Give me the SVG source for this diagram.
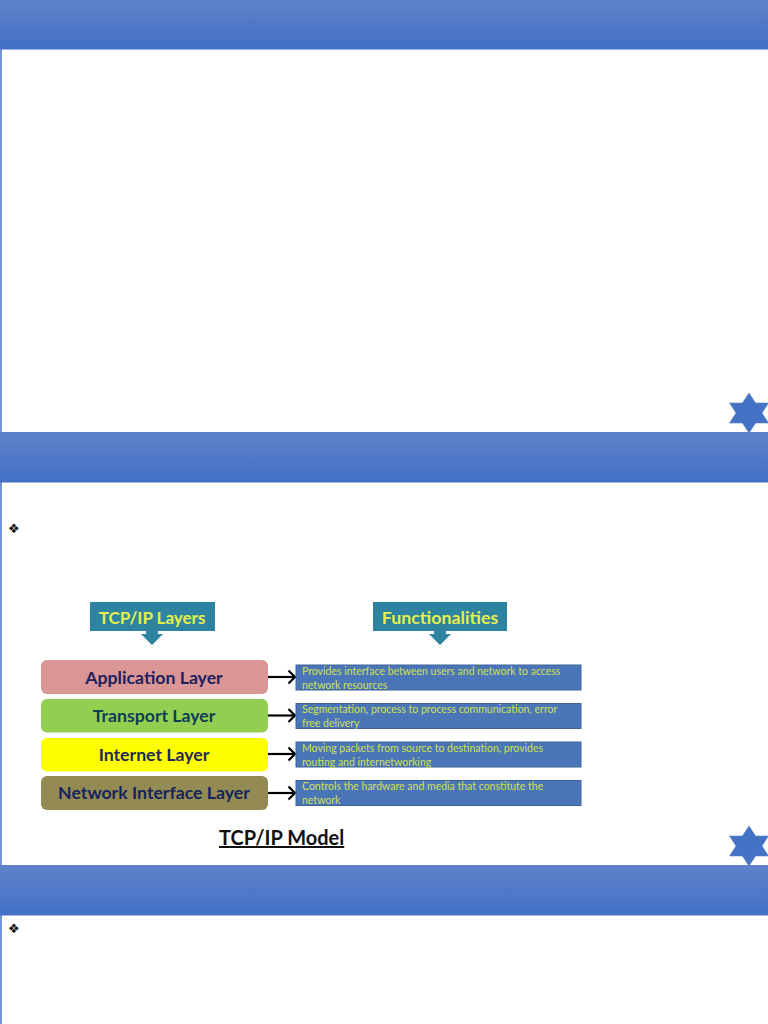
<svg xmlns="http://www.w3.org/2000/svg" width="768" height="1024" viewBox="0 0 768 1024">
<style>
text{font-family:Lato,"Liberation Sans",sans-serif}
.head{fill:#e5f04a;font-weight:700;text-anchor:middle}
.layer{font-weight:700;font-size:17.7px;text-anchor:middle}
.fn{fill:#cfe04e;font-size:10.5px}
.box{fill:#2e84a0}
.tip{fill:#2e84a0}
.fbox{fill:#4a76b8;stroke:#3f6296;stroke-width:1}
.conn{stroke:#000;stroke-width:2.2;fill:none;marker-end:url(#ah)}
.band{fill:url(#bg)}
.star{fill:#4472c4;stroke:#5b83cc;stroke-width:.6}
.edge{stroke:#4472c4;stroke-width:1.500}
.bul{font-family:"DejaVu Sans",sans-serif;font-size:13px;fill:#000}
</style>
<defs>
<linearGradient id="bg" x1="0" y1="0" x2="0" y2="1"><stop offset="0" stop-color="#5f82c9"/><stop offset="1" stop-color="#4270c6"/></linearGradient>
<marker id="ah" markerUnits="userSpaceOnUse" markerWidth="12" markerHeight="16" refX="10" refY="8" orient="auto"><path d="M3.500 1.500 L10 8 L3.500 14.500" fill="none" stroke="#000" stroke-width="2.200"/></marker>
</defs>
<rect width="768" height="1024" fill="#fff"/>
<g id="page-edges">
<line class="edge" x1="1" y1="49" x2="1" y2="432"/>
<line class="edge" x1="1" y1="482" x2="1" y2="865"/>
<line class="edge" x1="1" y1="915" x2="1" y2="1024"/>
</g>
<g id="bands">
<rect class="band" x="0" y="0" width="768" height="49.500"/>
<rect class="band" x="0" y="432" width="768" height="50.500"/>
<rect class="band" x="0" y="865" width="768" height="50.500"/>
</g>
<g id="star-1"><path class="star" d="M749 393 L755.600 403 L768.500 403 L762 413 L768.500 423 L755.600 423 L749 433 L742.400 423 L729.500 423 L736 413 L729.500 403 L742.400 403 Z"/></g>
<g id="star-2"><path class="star" d="M749 826 L755.600 836 L768.500 836 L762 846 L768.500 856 L755.600 856 L749 866 L742.400 856 L729.500 856 L736 846 L729.500 836 L742.400 836 Z"/></g>
<g id="bullet-1"><text class="bul" x="8" y="533">❖</text></g>
<g id="bullet-2"><text class="bul" x="8" y="933">❖</text></g>
<g id="head-layers">
<rect class="box" x="90" y="602" width="125" height="29"/>
<path class="tip" d="M146 631 H158 V634 H163 L152 645 L141 634 H146 Z"/>
<text class="head" x="152" y="623.500" font-size="17">TCP/IP Layers</text>
</g>
<g id="head-functionalities">
<rect class="box" x="373" y="602" width="134" height="29"/>
<path class="tip" d="M434 631 H446 V634 H451 L440 645 L429 634 H434 Z"/>
<text class="head" x="440" y="623.500" font-size="17.800">Functionalities</text>
</g>
<g id="layer-application">
<rect x="41" y="660" width="227" height="34" rx="6" fill="#da9694"/>
<text class="layer" x="154" y="684" fill="#1f2060">Application Layer</text>
</g>
<g id="layer-transport">
<rect x="41" y="699" width="227" height="33.500" rx="6" fill="#92cf50"/>
<text class="layer" x="154" y="722" fill="#0f3d55">Transport Layer</text>
</g>
<g id="layer-internet">
<rect x="41" y="738" width="227" height="33.500" rx="6" fill="#ffff00"/>
<text class="layer" x="154" y="761" fill="#1f2a55">Internet Layer</text>
</g>
<g id="layer-network">
<rect x="41" y="776" width="227" height="34" rx="6" fill="#948a54"/>
<text class="layer" x="154" y="799" fill="#14245c">Network Interface Layer</text>
</g>
<g id="connectors">
<line class="conn" x1="268" y1="677" x2="295" y2="677"/>
<line class="conn" x1="268" y1="715.500" x2="295" y2="715.500"/>
<line class="conn" x1="268" y1="754" x2="295" y2="754"/>
<line class="conn" x1="268" y1="793" x2="295" y2="793"/>
</g>
<g id="fn-1">
<rect class="fbox" x="296" y="665" width="285" height="25"/>
<text class="fn" x="302" y="675">Provides interface between users and network to access</text>
<text class="fn" x="302" y="689">network resources</text>
</g>
<g id="fn-2">
<rect class="fbox" x="296" y="703.500" width="285" height="25"/>
<text class="fn" x="302" y="713">Segmentation, process to process communication, error</text>
<text class="fn" x="302" y="727">free delivery</text>
</g>
<g id="fn-3">
<rect class="fbox" x="296" y="742" width="285" height="25"/>
<text class="fn" x="302" y="752">Moving packets from source to destination, provides</text>
<text class="fn" x="302" y="766">routing and internetworking</text>
</g>
<g id="fn-4">
<rect class="fbox" x="296" y="780.500" width="285" height="25"/>
<text class="fn" x="302" y="790">Controls the hardware and media that constitute the</text>
<text class="fn" x="302" y="804">network</text>
</g>
<g id="caption"><text x="219" y="845" font-size="20" font-weight="700" fill="#111" text-decoration="underline">TCP/IP Model</text></g>
</svg>
